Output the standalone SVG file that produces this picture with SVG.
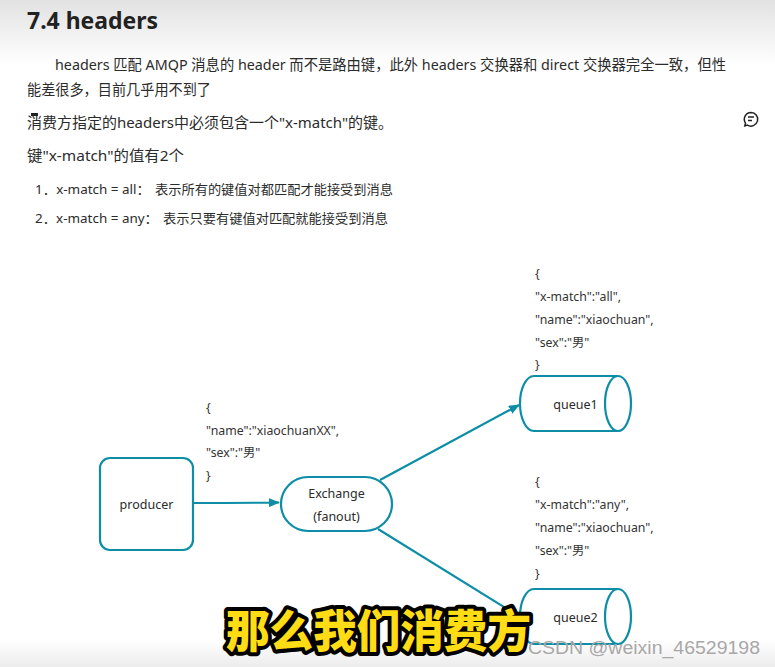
<svg xmlns="http://www.w3.org/2000/svg" width="775" height="667" viewBox="0 0 775 667">
<style>
text{font-family:"Noto Sans","Noto Sans CJK SC",sans-serif;fill:#2b2b2b}
.b{font-size:15px}
.s{font-size:13px}
.m{font-size:12.5px}
.d{font-size:12.3px;fill:#333}
.n{fill:#fff;stroke:#0e8ea6;stroke-width:2.2}
.c{fill:none;stroke:#0e8ea6;stroke-width:2.2}
.cap{font-family:"Noto Sans CJK SC",sans-serif;font-size:45px;font-weight:900;fill:#ffdc14;stroke:#000;stroke-width:8px;paint-order:stroke;stroke-linejoin:round}
</style>
<defs>
<linearGradient id="top" x1="0" y1="0" x2="0" y2="1"><stop offset="0" stop-color="#e2e2e2"/><stop offset="1" stop-color="#fff"/></linearGradient>
<linearGradient id="bot" x1="0" y1="0" x2="0" y2="1"><stop offset="0" stop-color="#fff"/><stop offset="1" stop-color="#ececec"/></linearGradient>
<marker id="arr" markerWidth="11" markerHeight="9" refX="10" refY="4.500" orient="auto" markerUnits="userSpaceOnUse"><path d="M0 0L11 4.500L0 9z" fill="#0e8ea6"/></marker>
</defs>
<rect width="775" height="667" fill="#fff"/>
<rect width="775" height="65" fill="url(#top)"/>
<rect y="640" width="775" height="27" fill="url(#bot)"/>
<text x="27" y="29" style="font-size:24px;font-weight:700;fill:#222" textLength="131" lengthAdjust="spacingAndGlyphs">7.4 headers</text>
<text class="b" x="55" y="70" textLength="671" lengthAdjust="spacingAndGlyphs">headers 匹配 AMQP 消息的 header 而不是路由键，此外 headers 交换器和 direct 交换器完全一致，但性</text>
<text class="b" x="27" y="95" textLength="184" lengthAdjust="spacingAndGlyphs">能差很多，目前几乎用不到了</text>
<rect x="31" y="113" width="7" height="3" fill="#222"/>
<text class="b" x="27" y="128" textLength="366" lengthAdjust="spacingAndGlyphs">消费方指定的headers中必须包含一个"x-match"的键。</text>
<text class="b" x="27" y="161" textLength="157" lengthAdjust="spacingAndGlyphs">键"x-match"的值有2个</text>
<text class="s" x="35" y="194" textLength="115" lengthAdjust="spacingAndGlyphs">1．x-match = all：</text>
<text class="s" x="155" y="194" textLength="238" lengthAdjust="spacingAndGlyphs">表示所有的键值对都匹配才能接受到消息</text>
<text class="s" x="35" y="223" textLength="123" lengthAdjust="spacingAndGlyphs">2．x-match = any：</text>
<text class="s" x="163" y="223" textLength="225" lengthAdjust="spacingAndGlyphs">表示只要有键值对匹配就能接受到消息</text>
<g id="comment-icon" fill="none" stroke="#222" stroke-width="1.5"><path d="M751 112.500a6.800 6.800 0 1 1-3.600 12.600l-2.600.8.7-2.800a6.800 6.800 0 0 1 5.500-10.600z"/><path d="M748 117h6M748 120.500h4"/></g>
<g id="connectors">
<path class="c" d="M193 503Q240 503 279 502.500" marker-end="url(#arr)"/>
<path class="c" d="M380 480L519 405" marker-end="url(#arr)"/>
<path class="c" d="M378 529L520 617" marker-end="url(#arr)"/>
</g>
<g id="producer"><rect class="n" x="100" y="458" width="93" height="92" rx="10"/><text class="m" x="146.500" y="509" text-anchor="middle">producer</text></g>
<g id="exchange"><rect class="n" x="281" y="477" width="111" height="54" rx="27"/><text class="m" x="336.500" y="498" text-anchor="middle">Exchange</text><text class="m" x="336.500" y="521" text-anchor="middle">(fanout)</text></g>
<g id="queue1"><path class="n" d="M618 376H534A14 27.500 0 0 0 534 431H618"/><ellipse class="n" cx="618" cy="403.500" rx="13" ry="27.500"/><text class="m" x="575.500" y="409" text-anchor="middle">queue1</text></g>
<g id="queue2"><path class="n" d="M618 589H534A14 27.500 0 0 0 534 644H618"/><ellipse class="n" cx="618" cy="616.500" rx="13" ry="27.500"/><text class="m" x="575.500" y="622" text-anchor="middle">queue2</text></g>
<g id="label-producer"><text class="d" x="206" y="412">{</text><text class="d" x="206" y="435">"name":"xiaochuanXX",</text><text class="d" x="206" y="457">"sex":"男"</text><text class="d" x="206" y="480">}</text></g>
<g id="label-queue1"><text class="d" x="535" y="278">{</text><text class="d" x="535" y="301">"x-match":"all",</text><text class="d" x="535" y="324">"name":"xiaochuan",</text><text class="d" x="535" y="347">"sex":"男"</text><text class="d" x="535" y="369">}</text></g>
<g id="label-queue2"><text class="d" x="535" y="486">{</text><text class="d" x="535" y="509">"x-match":"any",</text><text class="d" x="535" y="532">"name":"xiaochuan",</text><text class="d" x="535" y="555">"sex":"男"</text><text class="d" x="535" y="578">}</text></g>
<text class="cap" x="226" y="648" textLength="305" lengthAdjust="spacingAndGlyphs">那么我们消费方</text>
<text x="528" y="654" style="font-family:'Liberation Sans',sans-serif;font-size:18px;fill:#a8a8a8" textLength="232" lengthAdjust="spacingAndGlyphs">CSDN @weixin_46529198</text>
</svg>
